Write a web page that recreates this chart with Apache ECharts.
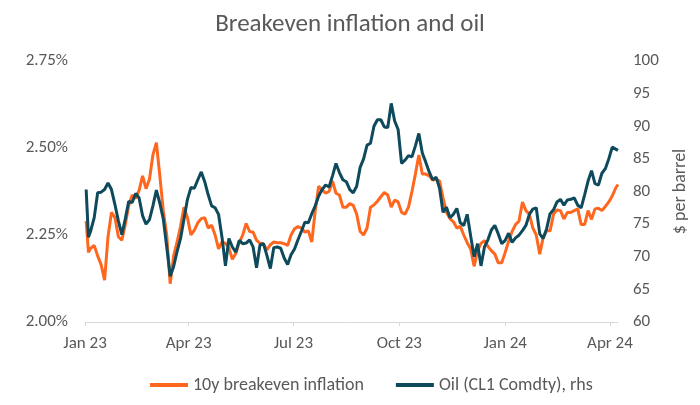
<!DOCTYPE html>
<html>
<head>
<meta charset="utf-8">
<script src="https://cdn.jsdelivr.net/npm/echarts@6/dist/echarts.min.js"></script>
<style>
  html, body { margin: 0; padding: 0; background: #fff; }
  #chart { width: 700px; height: 405px; }
</style>
</head>
<body>
<div id="chart"></div>
<script>
// dates (3-day sampling of the daily series)
var dates = [
  '2023-01-02','2023-01-04','2023-01-06','2023-01-09','2023-01-12','2023-01-15','2023-01-18','2023-01-21','2023-01-24','2023-01-27','2023-01-30',
  '2023-02-02','2023-02-05','2023-02-08','2023-02-11','2023-02-14','2023-02-17','2023-02-20','2023-02-23','2023-02-26',
  '2023-03-01','2023-03-04','2023-03-07','2023-03-10','2023-03-13','2023-03-16','2023-03-19','2023-03-22','2023-03-25','2023-03-28','2023-03-31',
  '2023-04-03','2023-04-06','2023-04-09','2023-04-12','2023-04-15','2023-04-18','2023-04-21','2023-04-24','2023-04-27','2023-04-30',
  '2023-05-03','2023-05-06','2023-05-09','2023-05-12','2023-05-15','2023-05-18','2023-05-21','2023-05-24','2023-05-27','2023-05-30',
  '2023-06-02','2023-06-05','2023-06-08','2023-06-11','2023-06-14','2023-06-17','2023-06-20','2023-06-23','2023-06-26','2023-06-29',
  '2023-07-02','2023-07-05','2023-07-08','2023-07-11','2023-07-14','2023-07-17','2023-07-20','2023-07-23','2023-07-26','2023-07-29',
  '2023-08-01','2023-08-04','2023-08-07','2023-08-10','2023-08-13','2023-08-16','2023-08-19','2023-08-22','2023-08-25','2023-08-28','2023-08-31',
  '2023-09-03','2023-09-06','2023-09-09','2023-09-12','2023-09-15','2023-09-18','2023-09-21','2023-09-24','2023-09-27','2023-09-30',
  '2023-10-03','2023-10-06','2023-10-09','2023-10-12','2023-10-15','2023-10-18','2023-10-21','2023-10-24','2023-10-27','2023-10-30',
  '2023-11-02','2023-11-05','2023-11-08','2023-11-11','2023-11-14','2023-11-17','2023-11-20','2023-11-23','2023-11-26','2023-11-29',
  '2023-12-02','2023-12-05','2023-12-08','2023-12-11','2023-12-14','2023-12-17','2023-12-20','2023-12-23','2023-12-26','2023-12-29',
  '2024-01-01','2024-01-04','2024-01-07','2024-01-10','2024-01-13','2024-01-16','2024-01-19','2024-01-22','2024-01-25','2024-01-28','2024-01-31',
  '2024-02-03','2024-02-06','2024-02-09','2024-02-12','2024-02-15','2024-02-18','2024-02-21','2024-02-24','2024-02-27',
  '2024-03-01','2024-03-04','2024-03-07','2024-03-10','2024-03-13','2024-03-16','2024-03-19','2024-03-22','2024-03-25','2024-03-28','2024-03-31',
  '2024-04-03','2024-04-06','2024-04-08'
]

// 10y breakeven inflation, %
var breakeven = [
  2.29, 2.20, 2.212, 2.22, 2.19, 2.165, 2.12, 2.245, 2.315, 2.30, 2.245,
  2.235, 2.28, 2.335, 2.365, 2.355, 2.378, 2.42, 2.383, 2.41,
  2.48, 2.515, 2.42, 2.32, 2.25, 2.11, 2.19, 2.23, 2.275, 2.33, 2.30,
  2.25, 2.264, 2.285, 2.297, 2.30, 2.27, 2.278, 2.25, 2.21, 2.23,
  2.226, 2.213, 2.18, 2.197, 2.228, 2.25, 2.283, 2.26, 2.258, 2.235,
  2.226, 2.225, 2.207, 2.222, 2.23, 2.228, 2.228, 2.225, 2.22, 2.25,
  2.268, 2.274, 2.27, 2.258, 2.262, 2.23, 2.32, 2.39, 2.38, 2.37,
  2.375, 2.405, 2.37, 2.365, 2.33, 2.33, 2.34, 2.335, 2.31, 2.26, 2.25,
  2.27, 2.33, 2.336, 2.347, 2.36, 2.372, 2.365, 2.33, 2.35, 2.345,
  2.315, 2.31, 2.33, 2.375, 2.425, 2.48, 2.425, 2.425, 2.42, 2.408,
  2.41, 2.405, 2.357, 2.315, 2.297, 2.288, 2.27, 2.275, 2.25, 2.228,
  2.21, 2.16, 2.205, 2.226, 2.234, 2.217, 2.205, 2.195, 2.17, 2.17,
  2.20, 2.232, 2.26, 2.28, 2.29, 2.345, 2.32, 2.31, 2.27, 2.25, 2.195,
  2.243, 2.262, 2.262, 2.31, 2.322, 2.32, 2.296, 2.315, 2.315,
  2.32, 2.325, 2.28, 2.28, 2.32, 2.295, 2.325, 2.327, 2.32, 2.332, 2.345,
  2.362, 2.385, 2.395
]

// Oil (CL1 Comdty), $ per barrel
var oil = [
  80.3, 73.0, 74.0, 76.0, 79.8, 79.9, 80.3, 81.3, 80.3, 78.0, 75.5,
  73.4, 75.8, 78.5, 78.3, 79.7, 79.0, 76.3, 75.0, 75.7,
  77.8, 80.2, 78.2, 75.8, 71.5, 67.0, 68.5, 70.8, 72.8, 75.8, 78.8,
  80.6, 80.5, 81.8, 83.0, 81.5, 79.5, 77.8, 77.5, 76.5, 73.0,
  68.6, 72.8, 71.5, 70.7, 72.5, 72.0, 72.1, 72.6, 71.5, 68.3,
  71.8, 72.0, 70.2, 68.2, 71.4, 71.5, 71.3, 69.8, 68.8, 70.3,
  71.2, 72.6, 73.9, 75.3, 75.2, 76.6, 77.8, 79.3, 80.3, 81.0,
  80.7, 82.4, 84.3, 82.9, 81.8, 81.5, 80.3, 79.8, 80.8, 83.7, 85.0,
  87.1, 87.4, 90.0, 91.0, 91.0, 89.9, 89.8, 93.5, 90.8, 89.5,
  84.3, 84.8, 85.5, 85.3, 87.0, 88.9, 85.9, 84.5, 83.0, 81.8,
  82.2, 80.5, 76.8, 77.6, 76.0, 76.5, 77.4, 75.2, 74.8, 76.5,
  73.2, 70.0, 72.0, 68.6, 71.5, 72.6, 74.1, 74.8, 73.5, 72.0,
  72.5, 73.6, 72.2, 72.9, 73.3, 74.0, 74.8, 76.5, 77.3, 77.5, 73.5,
  72.8, 74.3, 76.6, 77.2, 78.4, 78.8, 77.9, 78.7, 78.8,
  79.0, 77.9, 77.5, 79.5, 81.6, 83.2, 81.2, 81.0, 82.8, 83.5, 85.0,
  86.8, 86.5, 86.3
]

// x axis ticks
var xTickDates = ['2023-01-01', '2023-04-01', '2023-07-01', '2023-10-01', '2024-01-01', '2024-04-01']
var xTickLabels = ['Jan 23', 'Apr 23', 'Jul 23', 'Oct 23', 'Jan 24', 'Apr 24']

function toTime (s) {
  return new Date(s + 'T00:00:00').getTime()
}

var tickTimes = xTickDates.map(toTime)
var font = 'Carlito, "Liberation Sans Narrow", "Open Sans", sans-serif'
var grey = '#595959'

var myChart = echarts.init(document.getElementById('chart'))
myChart.setOption({
  animation: false,
  textStyle: { fontFamily: font },
  title: {
    text: 'Breakeven inflation and oil',
    left: 'center',
    top: 7,
    textStyle: { fontSize: 25, fontWeight: 'normal', color: grey, fontFamily: font }
  },
  legend: {
    left: 145,
    top: 371,
    icon: 'rect',
    itemWidth: 38,
    itemHeight: 4,
    itemGap: 32,
    textStyle: { fontSize: 18, color: grey, fontFamily: font },
    data: ['10y breakeven inflation', 'Oil (CL1 Comdty), rhs']
  },
  grid: { left: 85, right: 82, top: 61, bottom: 83 },
  xAxis: {
    // time values on a plain value axis so the quarter ticks can be placed exactly
    type: 'value',
    min: toTime('2023-01-01'),
    max: toTime('2024-04-08'),
    axisLine: { lineStyle: { color: '#d9d9d9' } },
    axisTick: { show: true, length: 4, inside: false, lineStyle: { color: '#d9d9d9' }, customValues: tickTimes },
    splitLine: { show: false },
    axisLabel: {
      color: grey,
      fontSize: 17,
      margin: 13,
      customValues: tickTimes,
      formatter: function (v) {
        var i = tickTimes.indexOf(v)
        return i >= 0 ? xTickLabels[i] : ''
      }
    }
  },
  yAxis: [
    {
      type: 'value',
      min: 2.0,
      max: 2.75,
      interval: 0.25,
      axisLine: { show: false },
      axisTick: { show: false },
      splitLine: { show: false },
      axisLabel: {
        color: grey,
        fontSize: 17,
        margin: 17,
        formatter: function (v) { return v.toFixed(2) + '%' }
      }
    },
    {
      type: 'value',
      min: 60,
      max: 100,
      interval: 5,
      name: '$ per barrel',
      nameLocation: 'middle',
      nameRotate: 90,
      nameGap: 53,
      nameTextStyle: { color: grey, fontSize: 18, fontFamily: font },
      axisLine: { show: false },
      axisTick: { show: false },
      splitLine: { show: false },
      axisLabel: { color: grey, fontSize: 17, margin: 15 }
    }
  ],
  series: [
    {
      name: '10y breakeven inflation',
      type: 'line',
      yAxisIndex: 0,
      showSymbol: false,
      data: dates.map(function (d, i) { return [toTime(d), breakeven[i]] }),
      itemStyle: { color: '#ff671f' },
      lineStyle: { width: 3, color: '#ff671f' }
    },
    {
      name: 'Oil (CL1 Comdty), rhs',
      type: 'line',
      yAxisIndex: 1,
      showSymbol: false,
      data: dates.map(function (d, i) { return [toTime(d), oil[i]] }),
      itemStyle: { color: '#0e4a5c' },
      lineStyle: { width: 3, color: '#0e4a5c' }
    }
  ]
})
</script>
</body>
</html>
